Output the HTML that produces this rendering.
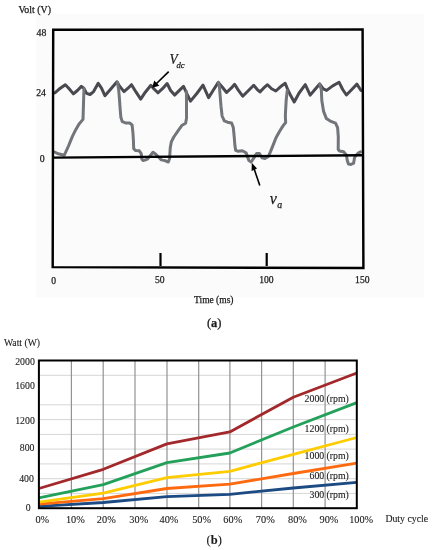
<!DOCTYPE html>
<html><head><meta charset="utf-8"><title>Figure</title>
<style>
html,body{margin:0;padding:0;background:#fff;}
body{width:433px;height:550px;overflow:hidden;}
svg{display:block;}
text{font-family:'Liberation Serif', 'Times New Roman', serif;fill:#1a1a1a;stroke:#1a1a1a;stroke-width:0.25px;}
.b text{stroke-width:0.1px;}
</style></head>
<body>
<svg width="433" height="550" viewBox="0 0 433 550">
<rect width="433" height="550" fill="#fff"/>
<rect x="36" y="14" width="388" height="283.5" fill="#fbfbfb"/>

  <!-- (a) voltage waveform -->
  <text x="18.5" y="12.5" font-size="9.9">Volt (V)</text>
  <g font-size="9.8" text-anchor="end">
    <text x="46.4" y="35.8">48</text>
    <text x="46" y="96">24</text>
    <text x="44.6" y="161.5">0</text>
  </g>
  <g font-size="9.6" text-anchor="middle">
    <text x="53.6" y="283.5">0</text>
    <text x="159.8" y="283.4">50</text>
    <text x="266.4" y="283.3">100</text>
    <text x="362.3" y="283.3">150</text>
  </g>
  <text x="213.8" y="302.6" font-size="9.5" text-anchor="middle">Time (ms)</text>
  <text x="214.2" y="327.3" font-size="12.5" text-anchor="middle">(<tspan font-weight="bold">a</tspan>)</text>

  <!-- traces -->
  <defs><filter id="soft" x="-5%" y="-5%" width="110%" height="110%"><feGaussianBlur stdDeviation="0.4"/></filter></defs>
  <g fill="none" stroke-linejoin="round" stroke-linecap="round" filter="url(#soft)">
    <polyline points="54.9,92.8 58.9,89.3 65.3,84.7 68.7,88.2 73.4,93.9 77.4,90.5 81.4,86.4 83.8,88.2 86.6,93.4 90.1,94.5 93.6,91.6 98.2,83.3 101.5,88.2 104.9,95.7 109.5,90.5 117,81.8 119.4,85.9 124,91.6 128,88.2 131.5,84.7 136.1,92.2 140.7,99.1 145.3,92.2 150.9,85.3 153.8,88.7 157.9,92.8 162.5,88.7 167.1,83.5 170.6,90.5 174.6,95.1 178.6,91.1 183.5,86.4 187.1,94.2 190.5,101.1 196.8,93.5 203,85.2 205.8,91.4 208.6,97.6 213.4,90 218.3,82.4 222.4,87.2 226.6,92.5 231.4,87.9 234.6,84.3 238.1,89.9 242.7,96.2 248.5,90.5 253.7,85.3 257.1,89.3 260,91.9 263.5,88.2 267.5,84.7 271.6,88.7 275.8,91 280.4,86.8 285.2,83.3 288,90.2 290.8,95.8 294.2,102 299.1,93 305.3,84.7 310.2,95.1 314.3,90.2 319.6,84 323.3,88.9 326.6,90.4 332.7,85.9 339.1,82.3 342.7,89.5 346.4,95 351.8,89.5 356.9,84.1 361,90.5" stroke="#48484f" stroke-width="3.0"/>
    <polyline points="54.5,152 58.3,153.8 64.3,155.2 68.5,146 72.4,136.4 75.9,129.4 78.9,124.2 83,119.4 83.6,100 84,88.5" stroke="#727479" stroke-width="3.0"/>
    <polyline points="117.4,82.2 118.7,89.8 119.5,99.6 120.2,109.5 120.9,117.6 122.3,121.7 125.5,122.9 129.6,122.9 132.1,125 132.9,132.4 133.4,140.5 133.7,148.7 135.4,150.4 139.3,150.8 141.2,153.6 141.9,159.2 143.3,160.6 147.5,159.2 150.2,155.7 153,152.3 155.8,154.3 159.2,157.8 161.3,159.9 164.8,160.6 168.3,162 169.6,158.5 169.9,153 170.3,147.4 171.3,141.9 173.8,137 178,130.8 182.1,125.2 185.6,123.2 186.5,118.3 186.5,100 186.4,91.5" stroke="#727479" stroke-width="3.0"/>
    <polyline points="218.3,82.4 219.4,86.5 220.2,96.4 221,106.2 222.1,116 224.3,120.9 227.5,122.2 231.6,122.9 233.3,127.5 234.1,135.6 234.9,145.5 235.7,150.4 238.2,151.2 242.3,150.7 244.7,152 246.2,153 247.6,157.1 249,160.6 251.1,162 253.9,157.8 256.6,153.6 259.4,153.6 262.2,157.8 264.9,158.5 268.4,156.4 270.5,151.6 273.3,144.6 276,137.7 279.5,131.5 283,125.9 285.7,122.5 285.4,118.3 285.4,114.2 286.2,100 287.3,90.5" stroke="#727479" stroke-width="3.0"/>
    <polyline points="319.6,84 321.3,89.5 321.8,100.5 323.6,111.4 326.4,118.6 330.9,121.4 335.5,123.2 337.6,127.7 338.3,136.8 338.2,149.5 339.5,151 343.6,151.8 346.4,155 347.3,160.5 348.5,164.1 350.9,164.5 353.6,163.2 354.5,157.7 356.4,155 358.5,152.8 360.5,151.8" stroke="#727479" stroke-width="3.0"/>
  </g>

  <!-- zero line -->
  <line x1="54" y1="157.6" x2="362" y2="155.3" stroke="#000" stroke-width="2.45"/>
  <!-- frame -->
  <path d="M53.2 29.7 L362.6 29.6 L363.4 268 L52.7 267.1 Z" fill="none" stroke="#000" stroke-width="2.45" stroke-linejoin="miter"/>
  <!-- ticks -->
  <line x1="160.5" y1="253" x2="160.5" y2="266" stroke="#000" stroke-width="2.2"/>
  <line x1="266.7" y1="253" x2="266.7" y2="266" stroke="#000" stroke-width="2.2"/>

  <!-- annotations -->
  <line x1="168.7" y1="71.6" x2="156" y2="84" stroke="#000" stroke-width="1.6"/>
  <polygon points="152.2,87.7 154.2,80.6 159.3,85.8" fill="#000"/>
  <text x="169.6" y="63.7" font-size="14.3" font-style="italic" transform="translate(169.6 63.7) scale(0.94 1) translate(-169.6 -63.7)">V</text>
  <text x="176.4" y="67.5" font-size="8.6" font-style="italic">dc</text>

  <line x1="259.8" y1="185.5" x2="254" y2="168.5" stroke="#000" stroke-width="1.6"/>
  <polygon points="251.8,162.8 251.6,171 257,168.6" fill="#000"/>
  <text x="269.8" y="203.5" font-size="16" font-style="italic">v</text>
  <text x="277.3" y="208.4" font-size="9.8" font-style="italic">a</text>

  <!-- (b) power vs duty cycle -->
  <g class="b">
  <text x="4" y="345.9" font-size="9.7">Watt (W)</text>
  <line x1="38.9" y1="375.3" x2="356.8" y2="375.3" stroke="#d6d6d6" stroke-width="1"/>
  <line x1="38.9" y1="404.8" x2="356.8" y2="404.8" stroke="#d6d6d6" stroke-width="1"/>
  <line x1="38.9" y1="419.6" x2="356.8" y2="419.6" stroke="#d6d6d6" stroke-width="1"/>
  <line x1="38.9" y1="434.4" x2="356.8" y2="434.4" stroke="#d6d6d6" stroke-width="1"/>
  <line x1="38.9" y1="449.1" x2="356.8" y2="449.1" stroke="#d6d6d6" stroke-width="1"/>
  <line x1="38.9" y1="463.9" x2="356.8" y2="463.9" stroke="#d6d6d6" stroke-width="1"/>
  <line x1="38.9" y1="478.7" x2="356.8" y2="478.7" stroke="#d6d6d6" stroke-width="1"/>
  <line x1="38.9" y1="493.4" x2="356.8" y2="493.4" stroke="#d6d6d6" stroke-width="1"/>
  <line x1="71.4" y1="360.5" x2="71.4" y2="508.2" stroke="#929292" stroke-width="1.2"/>
  <line x1="103.2" y1="360.5" x2="103.2" y2="508.2" stroke="#929292" stroke-width="1.2"/>
  <line x1="135.0" y1="360.5" x2="135.0" y2="508.2" stroke="#929292" stroke-width="1.2"/>
  <line x1="167.0" y1="360.5" x2="167.0" y2="508.2" stroke="#929292" stroke-width="1.2"/>
  <line x1="198.7" y1="360.5" x2="198.7" y2="508.2" stroke="#929292" stroke-width="1.2"/>
  <line x1="229.9" y1="360.5" x2="229.9" y2="508.2" stroke="#929292" stroke-width="1.2"/>
  <line x1="261.6" y1="360.5" x2="261.6" y2="508.2" stroke="#929292" stroke-width="1.2"/>
  <line x1="293.3" y1="360.5" x2="293.3" y2="508.2" stroke="#929292" stroke-width="1.2"/>
  <line x1="325.1" y1="360.5" x2="325.1" y2="508.2" stroke="#929292" stroke-width="1.2"/>
  <g font-size="9.8" text-anchor="end">
    <text x="324.2" y="402.1">2000</text>
    <text x="348.8" y="402.1">(rpm)</text>
    <text x="324.2" y="432.0">1200</text>
    <text x="348.8" y="432.0">(rpm)</text>
    <text x="324.2" y="458.7">1000</text>
    <text x="348.8" y="458.7">(rpm)</text>
    <text x="324.2" y="478.9">600</text>
    <text x="348.8" y="478.9">(rpm)</text>
    <text x="324.2" y="497.5">300</text>
    <text x="348.8" y="497.5">(rpm)</text>
  </g>
  <g fill="none" stroke-width="2.8" stroke-linejoin="round">
    <polyline points="38.9,506.4 103.3,502.5 166.9,496.6 229.8,494.3 293.3,488 356.8,482.3" stroke="#1c4a82"/>
    <polyline points="38.9,504.2 103.3,498.7 166.9,488.5 229.8,484.2 293.3,473.5 356.8,463.2" stroke="#ff6a10"/>
    <polyline points="38.9,502.1 103.3,493.2 166.9,477.6 229.8,471.3 293.3,454.3 356.8,437.5" stroke="#ffcc00"/>
    <polyline points="38.9,497.9 103.3,484.6 166.9,462.6 229.8,453 293.3,427 356.8,402.6" stroke="#23a05a"/>
    <polyline points="38.9,488.5 103.3,469.3 166.9,443.9 229.8,431.9 293.3,397.2 356.8,373" stroke="#a3282c"/>
  </g>
  <rect x="38.9" y="360.5" width="317.9" height="147.7" fill="none" stroke="#000" stroke-width="2"/>
  <g font-size="9.8" text-anchor="end">
    <text x="34.8" y="365">2000</text>
    <text x="34.8" y="389.3">1600</text>
    <text x="34.8" y="423.9">1200</text>
    <text x="34.5" y="451.3">800</text>
    <text x="33.9" y="481.8">400</text>
    <text x="30.6" y="510.9">0</text>
  </g>
  <g font-size="10.3" text-anchor="middle">
    <text x="42.3" y="522.6">0%</text>
    <text x="75.4" y="522.6">10%</text>
    <text x="106.3" y="522.6">20%</text>
    <text x="138.8" y="522.6">30%</text>
    <text x="169.0" y="522.6">40%</text>
    <text x="201.6" y="522.6">50%</text>
    <text x="232.8" y="522.6">60%</text>
    <text x="265.3" y="522.6">70%</text>
    <text x="297.5" y="522.6">80%</text>
    <text x="329.0" y="522.6">90%</text>
    <text x="361.2" y="522.6">100%</text>
  </g>
  <text x="385.4" y="522.3" font-size="9.8">Duty cycle</text>
  <text x="214.2" y="544" font-size="12.5" text-anchor="middle">(<tspan font-weight="bold">b</tspan>)</text>
  </g>
</svg>
</body></html>
